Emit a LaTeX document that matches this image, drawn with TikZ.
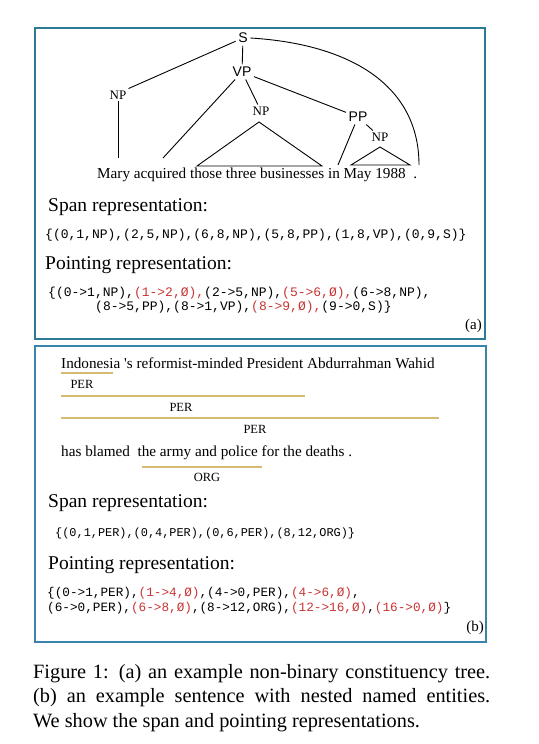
\documentclass[tikz,border=0pt]{standalone}
\usepackage{fontspec}
\setmainfont{Liberation Serif}
\setsansfont{Liberation Sans}
\setmonofont{Liberation Mono}
\usepackage{tikz}
\usetikzlibrary{calc, positioning}
\definecolor{framea}{RGB}{44,122,148}
\definecolor{frameb}{RGB}{58,132,172}
\definecolor{ptrred}{RGB}{200,52,52}
\definecolor{spangold}{RGB}{214,186,112}
\tikzstyle{panel}     = [line width=1.6pt]
\tikzstyle{branch}    = [line width=0.9pt]
\tikzstyle{entline}   = [draw=spangold, line width=1.3pt]
\newcommand{\nul}[1]{\textcolor{ptrred}{#1}}

\begin{document}
\begin{tikzpicture}[
    x=1pt, y=-1pt,
    cat/.style={font=\fontsize{14}{14}\sffamily, inner sep=2.5pt},
    np/.style={font=\fontsize{13}{13}\selectfont, inner sep=2pt},
    word/.style={font=\fontsize{15.2}{16}\selectfont, anchor=west, inner sep=0pt},
    heading/.style={font=\fontsize{19.5}{20}\selectfont, anchor=west, inner sep=0pt},
    code/.style={font=\fontsize{13}{15}\ttfamily, anchor=west, inner sep=0pt},
    ent/.style={font=\fontsize{12.5}{13}\selectfont, inner sep=0pt},
    tag/.style={font=\fontsize{15}{15}\selectfont, anchor=east, inner sep=0pt},
  ]
  \useasboundingbox (0,0) rectangle (538,744);

  % (a) constituency tree
  \draw[panel, draw=framea] (35,28) rectangle (485,339);
  \node[cat] (s) at (243,38) {S};
  \node[cat] (vp) at (242,72) {VP};
  \node[np] (npa) at (118,95) {NP};
  \node[np] (npb) at (261,111) {NP};
  \node[cat] (pp) at (358,117) {PP};
  \node[np] (npc) at (380,137) {NP};
  \node[word] (sent) at (97,175) {Mary acquired those three businesses in May 1988\ \ .};

  \coordinate (mary) at (118,158);
  \coordinate (acq) at (163,158);
  \coordinate (in) at (338,165);
  \coordinate (dot) at (419,165);
  \coordinate (topb) at (259,122);
  \coordinate (leftb) at (197,166);
  \coordinate (rightb) at (322,166);
  \coordinate (topc) at (380,147);
  \coordinate (leftc) at (351,165);
  \coordinate (rightc) at (410,165);

  \draw[branch] (s) -- (vp);
  \draw[branch] (s) -- (npa.north east);
  \draw[branch] (npa) -- (mary);
  \draw[branch] (vp) -- (acq);
  \draw[branch] (vp) -- (npb);
  \draw[branch] (vp) -- (pp);
  \draw[branch] (pp) -- (in);
  \draw[branch] (pp) -- (npc);
  \draw[branch] (topb) -- (leftb) -- (rightb) -- cycle;
  \draw[branch] (topc) -- (leftc) -- (rightc) -- cycle;
  \draw[branch] (s.east) .. controls (350,44) and (419,85) .. (dot);

  \node[heading] (spanhead) at (48,207) {Span representation:};
  \node[code] (spana) at (45,235) {\{(0,1,NP),(2,5,NP),(6,8,NP),(5,8,PP),(1,8,VP),(0,9,S)\}};
  \node[heading] (pointhead) at (45,265) {Pointing representation:};
  \node[code] (pointa) at (48,293) {\{(0->1,NP),\nul{(1->2,Ø),}(2->5,NP),\nul{(5->6,Ø),}(6->8,NP),};
  \node[code] (pointaa) at (95,307) {(8->5,PP),(8->1,VP),\nul{(8->9,Ø),}(9->0,S)\}};
  \node[tag] (taga) at (482,326) {(a)};

  % (b) nested named entities
  \draw[panel, draw=frameb] (35,346) rectangle (486,642);
  \node[word] (indo) at (61,363) {Indonesia \textquotesingle s reformist-minded President Abdurrahman Wahid};
  \foreach \name/\y/\xe/\lx/\ly in {pera/373/113/82/384, perb/396/305/181/407, perc/418/439/255/429} {
    \coordinate (\name-l) at (61,\y);
    \coordinate (\name-r) at (\xe,\y);
    \draw[entline] (\name-l) -- (\name-r);
    \node[ent] (\name) at (\lx,\ly) {PER};
  }
  \node[word] (blamed) at (61,453) {has blamed \ the army and police for the deaths .};
  \coordinate (org-l) at (142,467);
  \coordinate (org-r) at (262,467);
  \draw[entline] (org-l) -- (org-r);
  \node[ent] (org) at (207,477) {ORG};

  \node[heading] (spanheadb) at (48,503) {Span representation:};
  \node[code, font=\fontsize{11.9}{14}\ttfamily] (spanb) at (55,533) {\{(0,1,PER),(0,4,PER),(0,6,PER),(8,12,ORG)\}};
  \node[heading] (pointheadb) at (48,565) {Pointing representation:};
  \node[code, font=\fontsize{12.7}{14}\ttfamily] (pointb) at (47,593) {\{(0->1,PER),\nul{(1->4,Ø)},(4->0,PER),\nul{(4->6,Ø)},};
  \node[code, font=\fontsize{12.7}{14}\ttfamily] (pointbb) at (47,608) {(6->0,PER),\nul{(6->8,Ø)},(8->12,ORG),\nul{(12->16,Ø)},\nul{(16->0,Ø)}\}};
  \node[tag] (tagb) at (484,628) {(b)};

  % caption
  \node[anchor=north west, inner sep=0pt, font=\fontsize{20.3}{24.5}\selectfont, align=left] (caption) at (33,664)
    {\makebox[457pt][s]{Figure 1: (a) an example non-binary constituency tree.}\\
     \makebox[457pt][s]{(b) an example sentence with nested named entities.}\\
     We show the span and pointing representations.};
\end{tikzpicture}
\end{document}
